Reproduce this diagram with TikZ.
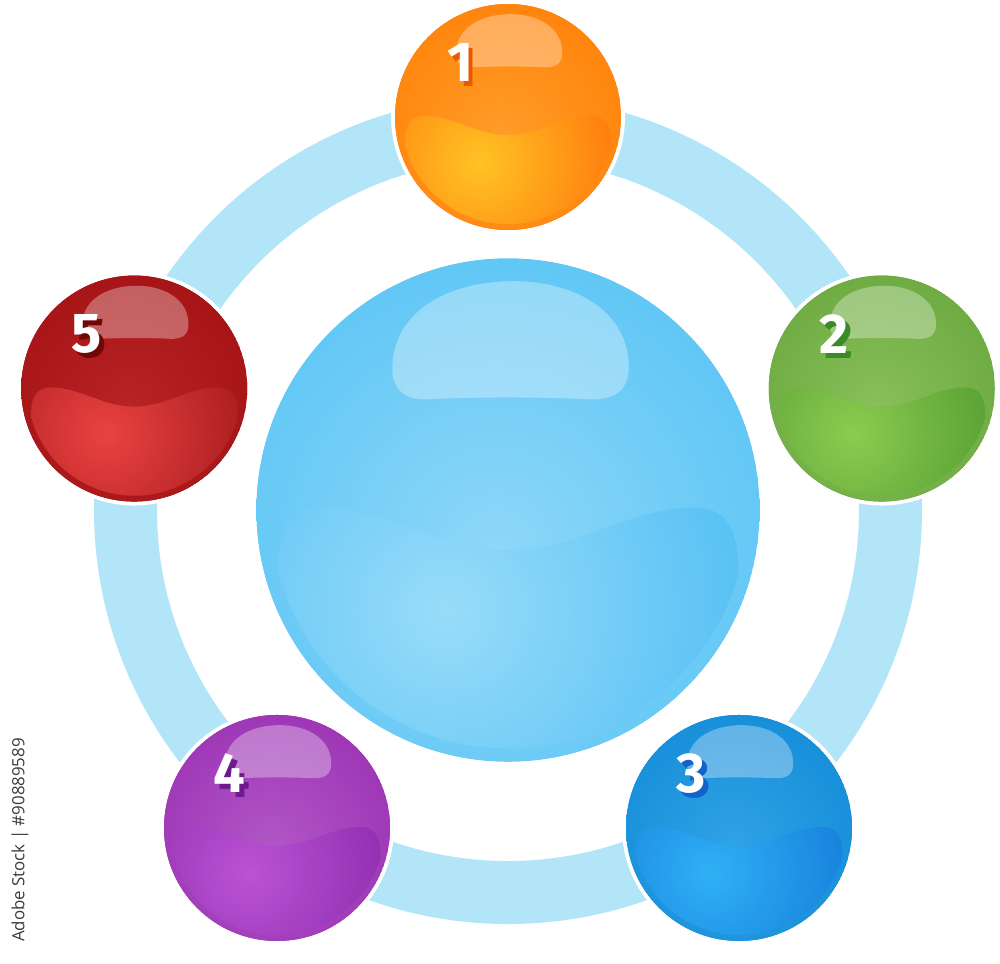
\documentclass[tikz,border=0pt]{standalone}
\usepackage{fontspec}
\newfontfamily\digitfont{Fira Sans}
\newfontfamily\stockfont{Open Sans}
\usepackage{tikz}
\usetikzlibrary{positioning}

\definecolor{ringblue}{HTML}{B3E5F8}
\definecolor{stockgray}{HTML}{3A3A3A}
% sphere colours: top, light, glow, edge, shadow
\definecolor{orangetop}{HTML}{FF7A00}
\definecolor{orangelight}{HTML}{FF9C28}
\definecolor{orangeglow}{HTML}{FFC324}
\definecolor{orangeedge}{HTML}{FF5200}
\definecolor{orangeshadow}{HTML}{E85A00}
\definecolor{greentop}{HTML}{62A236}
\definecolor{greenlight}{HTML}{88BF5A}
\definecolor{greenglow}{HTML}{8CCB50}
\definecolor{greenedge}{HTML}{3A8A24}
\definecolor{greenshadow}{HTML}{3A8A28}
\definecolor{bluetop}{HTML}{0C86D4}
\definecolor{bluelight}{HTML}{30A2E6}
\definecolor{blueglow}{HTML}{2FB0F5}
\definecolor{blueedge}{HTML}{0A66CE}
\definecolor{blueshadow}{HTML}{1262CA}
\definecolor{purpletop}{HTML}{9628AE}
\definecolor{purplelight}{HTML}{B056C6}
\definecolor{purpleglow}{HTML}{BC52D6}
\definecolor{purpleedge}{HTML}{761C9C}
\definecolor{purpleshadow}{HTML}{6C1A8C}
\definecolor{redtop}{HTML}{9E0D11}
\definecolor{redlight}{HTML}{B82424}
\definecolor{redglow}{HTML}{EA4242}
\definecolor{rededge}{HTML}{880A0C}
\definecolor{redshadow}{HTML}{700808}
\definecolor{hubtop}{HTML}{4BBFF4}
\definecolor{hublight}{HTML}{8ED7F8}
\definecolor{hubglow}{HTML}{98DCF9}
\definecolor{hubedge}{HTML}{30B0F2}

\tikzset{
  ballnode/.style={circle, inner sep=0pt, minimum size=#1},
  ringband/.style={draw=ringblue, line width=0.63cm},
  ballrim/.style={fill=white},
  gloss/.style={fill=white, fill opacity=0.32},
  numlabel/.style={inner sep=0pt, font=\digitfont\bfseries\fontsize{16}{16}\selectfont},
}

% glossy ball of radius 1, drawn round the origin
\newcommand{\glossball}[1]{%
  \fill[ballrim] (0,0) circle (1.035);
  \begin{scope}
    \clip (0,0) circle (1);
    \fill[#1top] (0,0) circle (1);
    \shade[inner color=#1light, outer color=#1top] (-0.05,-0.15) circle (1.7);
  \end{scope}
  % lower part with its glow
  \begin{scope}
    \clip (-0.74,0.01) .. controls (-0.48,0.01) and (-0.28,-0.16) .. (0,-0.16)
      .. controls (0.28,-0.16) and (0.48,0.01) .. (0.74,0.01)
      .. controls (0.88,0.01) and (0.92,-0.1) .. (0.915,-0.26)
      arc[start angle=-16, end angle=-164, radius=0.95]
      .. controls (-0.92,-0.1) and (-0.88,0.01) .. (-0.74,0.01) -- cycle;
    \shade[inner color=#1glow, outer color=#1edge] (-0.25,-0.4) circle (1.95);
  \end{scope}
  % top highlight
  \fill[gloss] (-0.46,0.56) .. controls (-0.46,0.80) and (-0.22,0.91) .. (0.02,0.91)
    .. controls (0.28,0.91) and (0.48,0.78) .. (0.48,0.57)
    .. controls (0.48,0.47) and (0.42,0.44) .. (0.33,0.44)
    .. controls (0.12,0.45) and (-0.12,0.45) .. (-0.33,0.44)
    .. controls (-0.41,0.44) and (-0.46,0.48) .. (-0.46,0.56) -- cycle;
}

\begin{document}
\begin{tikzpicture}
\useasboundingbox (-5.08,-4.53) rectangle (4.92,5.10);
\node[ballnode=5.03cm] (hub) at (0,0) {};
\draw[ringband] (hub.center) circle (3.825);
\foreach \ang/\num/\col in {90/1/orange, 18/2/green, -54/3/blue, -126/4/purple, 162/5/red} {
  \node[ballnode=2.26cm] (s\num) at (\ang:3.93) {};
  \begin{scope}[shift={(s\num.center)}, scale=1.13]
    \glossball{\col}
  \end{scope}
  \node[numlabel, text=\col shadow] (d\num) at ([shift={(-0.43,0.495)}]s\num.center) {\num};
  \node[numlabel, text=white] (n\num) at ([shift={(-0.475,0.545)}]s\num.center) {\num};
}
\begin{scope}[shift={(hub.center)}, scale=2.515]
  \glossball{hub}
\end{scope}
\node[rotate=90, inner sep=0pt, text=stockgray, font=\stockfont\fontsize{4.8}{5}\selectfont] (stock) at (-4.88,-3.30) {Adobe Stock | \#90889589};
\end{tikzpicture}
\end{document}
